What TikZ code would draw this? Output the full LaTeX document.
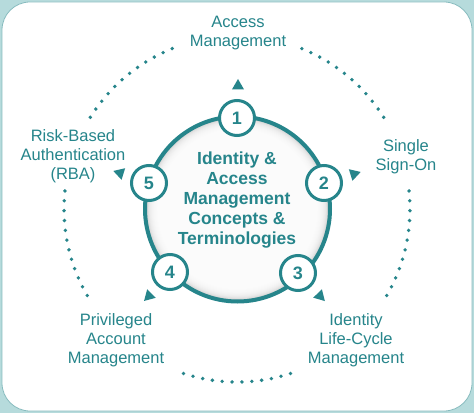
\documentclass[tikz,border=0pt]{standalone}
\usepackage{fontspec}
\setmainfont{Liberation Sans}
\usetikzlibrary{shapes.geometric}
\definecolor{teal1}{RGB}{38,133,139}
\definecolor{framebg}{RGB}{182,219,220}
\begin{document}
\begin{tikzpicture}[x=1pt,y=1pt,
  num/.style={circle, draw=teal1, line width=3pt, fill=white, minimum size=35pt, inner sep=0pt, font=\fontsize{18}{18}\selectfont\bfseries, text=teal1},
  tri/.style={regular polygon, regular polygon sides=3, fill=teal1, inner sep=0pt, minimum size=14pt},
  lbl/.style={align=center, text=teal1, font=\fontsize{16.5}{19}\selectfont},
  ctr/.style={align=center, text=teal1, font=\fontsize{17.5}{20}\selectfont\bfseries},
  hubstyle/.style={circle, draw=teal1, line width=4pt, minimum size=185pt, inner sep=0pt}]
\useasboundingbox (0,0) rectangle (474,413);
\fill[framebg] (0,0) rectangle (474,413);
\draw[fill=white, draw=teal1!55, line width=0.8pt, rounded corners=28pt] (2,2) rectangle (472,411);
% dotted arcs
\coordinate (D) at (237,204);
\foreach \s/\e in {32/68,112/148,174/210,252/288,-30/6}{
  \foreach \k in {0,...,11}{
    \fill[teal1] (D) ++({\s+\k*(\e-\s)/11}:173) circle (1.9);
  }
}
% hub with inner shadow
\coordinate (C) at (237.5,204);
\fill[black!22] (C) circle (92);
\foreach \i in {1,...,14}{
  \fill[white,opacity=0.22] (C) circle ({92-\i*0.9});
}
\node[hubstyle] (hub) at (C) {};
\node[ctr] (title) at (237,213) {Identity \&\\Access\\Management\\Concepts \&\\Terminologies};
% numbered circles
\node[num] (n1) at (237,295) {1};
\node[num] (n2) at (324,230) {2};
\node[num] (n3) at (298,140) {3};
\node[num] (n4) at (170,141) {4};
\node[num] (n5) at (149,230) {5};
% triangles
\node[tri] (t1) at (238,327) {};
\node[tri, rotate=-73] (t2) at (354,239) {};
\node[tri, rotate=-136] (t3) at (320,117) {};
\node[tri, rotate=135] (t4) at (149,117) {};
\node[tri, rotate=73] (t5) at (120,240) {};
% labels
\node[lbl] (l1) at (238,379.5) {Access\\Management};
\node[lbl] (l2) at (406,256) {Single\\Sign-On};
\node[lbl] (l3) at (356,73) {Identity\\Life-Cycle\\Management};
\node[lbl] (l4) at (116,73) {Privileged\\Account\\Management};
\node[lbl] (l5) at (73,257) {Risk-Based\\Authentication\\(RBA)};
\end{tikzpicture}
\end{document}
